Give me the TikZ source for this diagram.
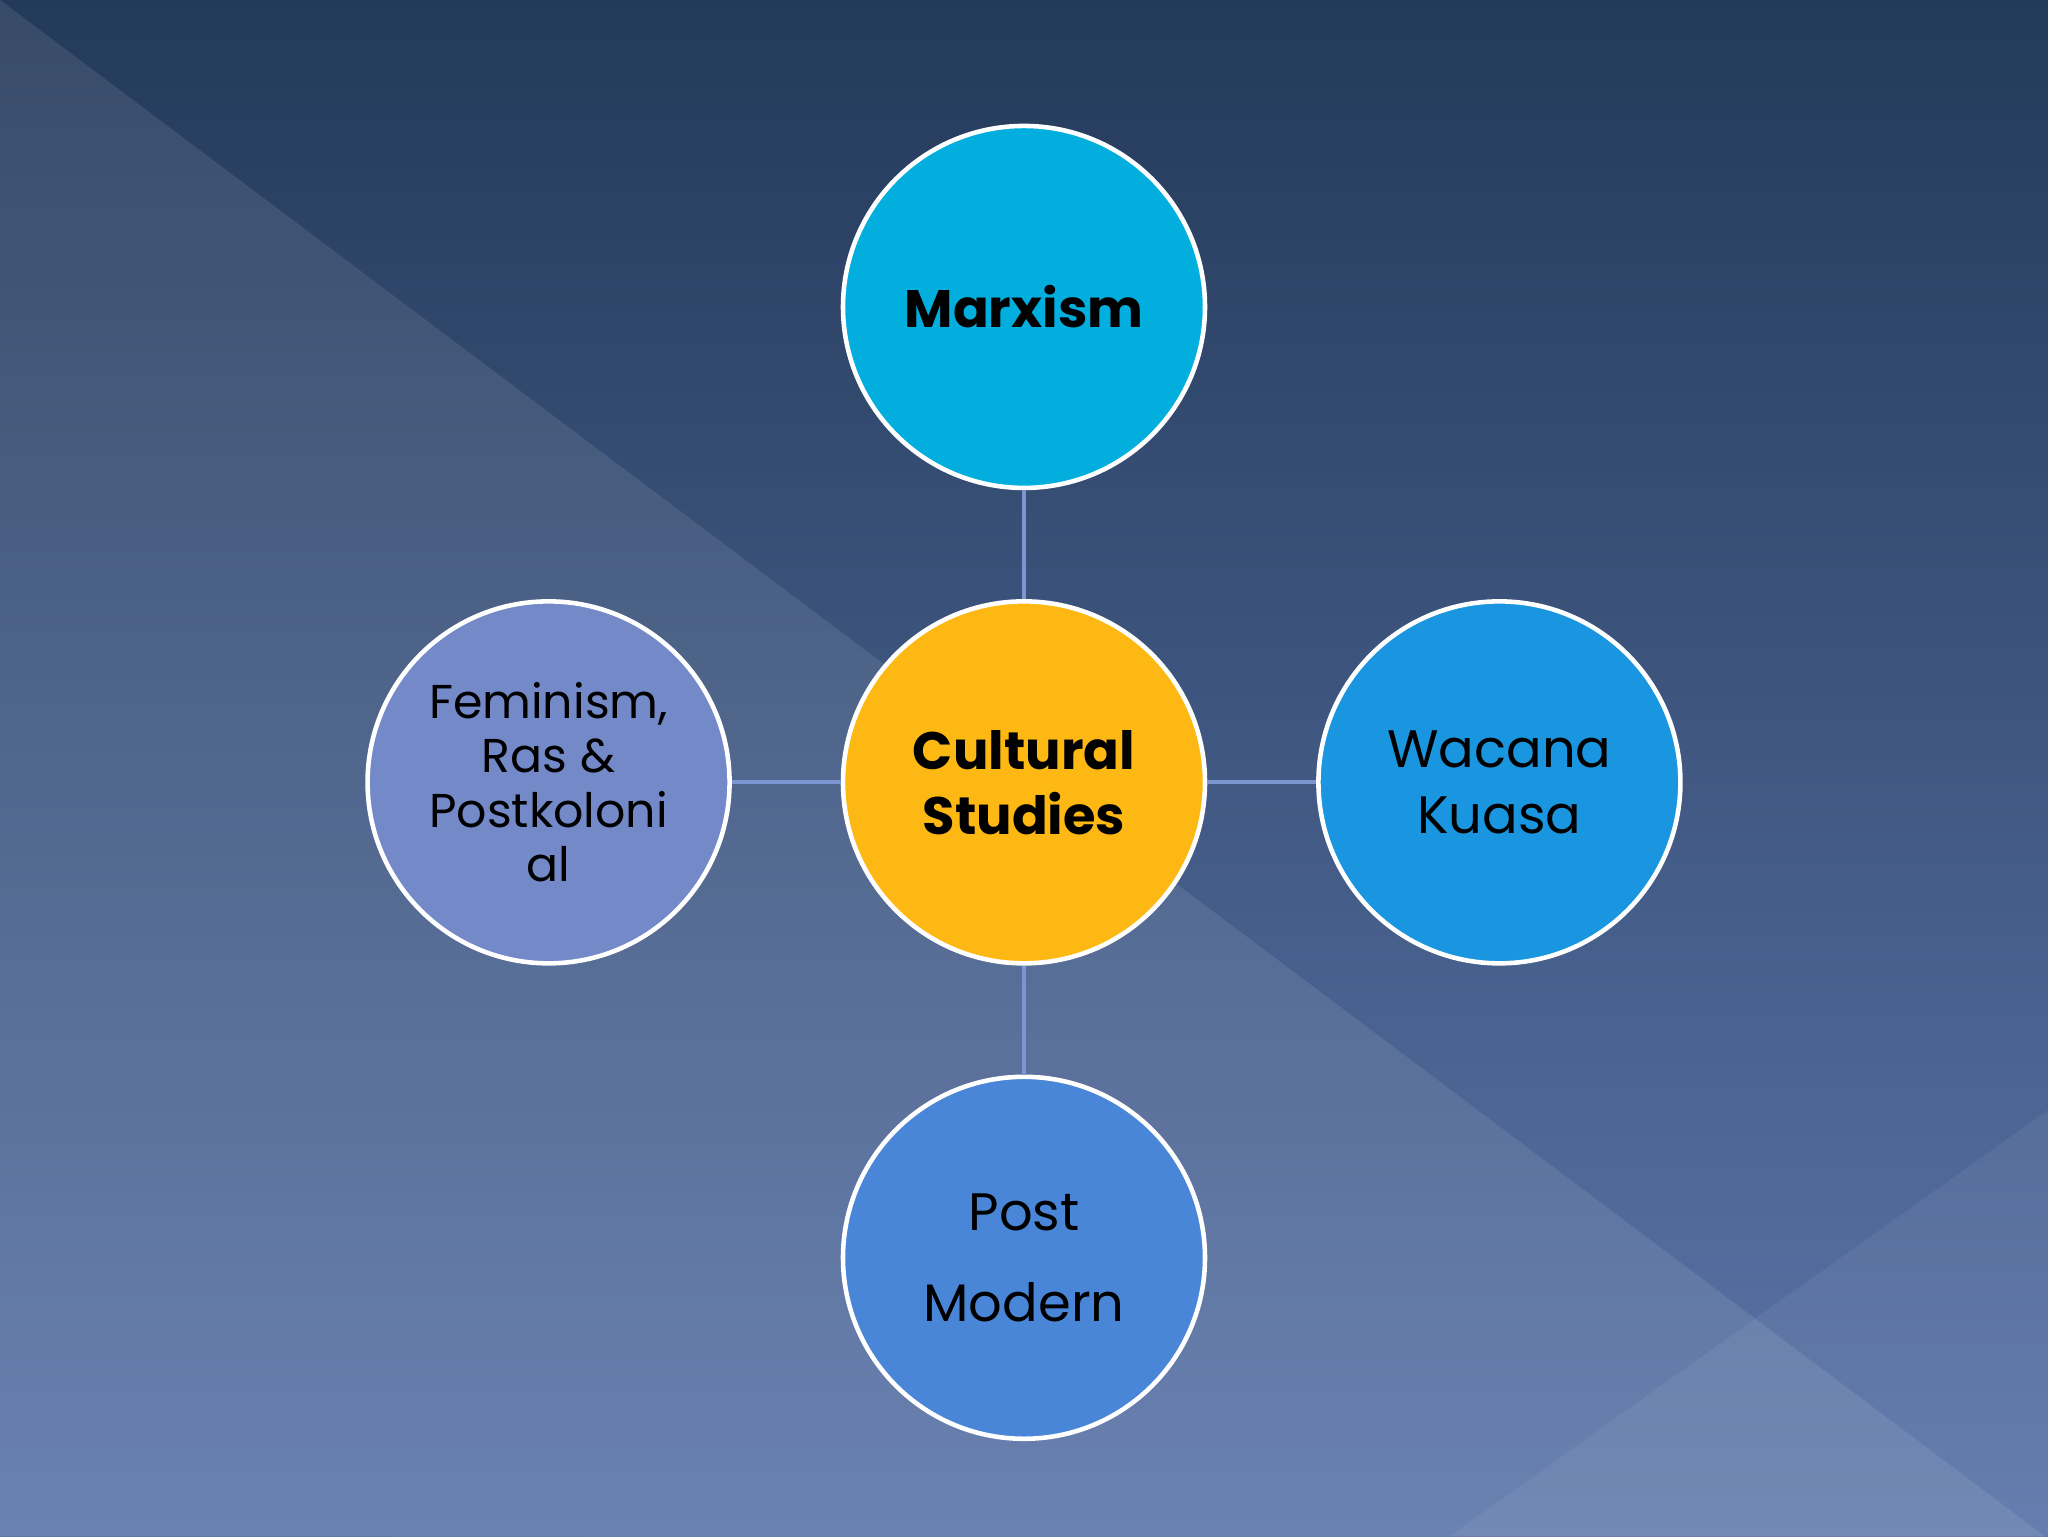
\documentclass[tikz,border=0pt]{standalone}
\usepackage{fontspec}
\setmainfont{Poppins}
\begin{document}
\begin{tikzpicture}[x=0.01306cm,y=-0.01306cm,
  bubble/.style={circle,draw=white,line width=1.3pt,minimum size=3.62cm,inner sep=0pt,align=center,text=black},
  link/.style={draw={rgb,255:red,125;green,149;blue,208},line width=1.2pt}]
\definecolor{bgtop}{RGB}{36,58,90}
\definecolor{bgbot}{RGB}{92,118,170}
\shade[top color=bgtop,bottom color=bgbot] (0,0) rectangle (1568,1176);
\fill[white,opacity=0.09] (0,0) -- (1568,1178) -- (0,1176) -- cycle;
\fill[white,opacity=0.06] (1110,1176) -- (1568,850) -- (1568,1176) -- cycle;
\useasboundingbox (0,0) rectangle (1568,1176);
\node[bubble,fill={rgb,255:red,2;green,174;blue,221},font=\fontsize{15}{18}\selectfont\bfseries] (m) at (784,235) {Marxism};
\node[bubble,fill={rgb,255:red,253;green,184;blue,19},font=\fontsize{15}{18.5}\selectfont\bfseries] (c) at (784,599) {Cultural\\ Studies};
\node[bubble,fill={rgb,255:red,26;green,150;blue,224},font=\fontsize{15}{18.5}\selectfont] (w) at (1148,599) {Wacana\\ Kuasa};
\node[bubble,fill={rgb,255:red,115;green,137;blue,200},font=\fontsize{13.5}{15.5}\selectfont] (f) at (420,599) {Feminism,\\ Ras \&\\ Postkoloni\\ al};
\node[bubble,fill={rgb,255:red,74;green,134;blue,216},font=\fontsize{15}{26}\selectfont] (p) at (784,963) {Post\\ Modern};
\draw[link] (m) -- (c);
\draw[link] (c) -- (w);
\draw[link] (f) -- (c);
\draw[link] (c) -- (p);
\end{tikzpicture}
\end{document}
